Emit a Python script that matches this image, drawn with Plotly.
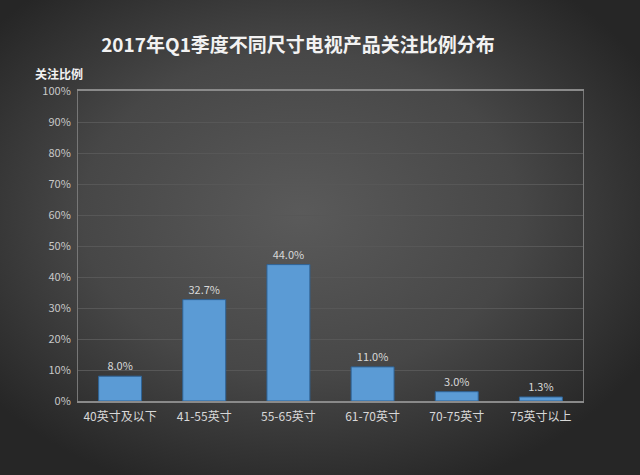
import base64
import plotly.graph_objects as go

categories = ["40英寸及以下", "41-55英寸", "55-65英寸", "61-70英寸", "70-75英寸", "75英寸以上"]
values = [8.0, 32.7, 44.0, 11.0, 3.0, 1.3]
labels = ["8.0%", "32.7%", "44.0%", "11.0%", "3.0%", "1.3%"]
y_ticks = [0, 10, 20, 30, 40, 50, 60, 70, 80, 90, 100]
y_tick_text = [f"{v}%" for v in y_ticks]

W, H = 640, 475
ML, MR, MT, MB = 78, 57, 91, 74
PW, PH = W - ML - MR, H - MT - MB

svg = f'''<svg xmlns="http://www.w3.org/2000/svg" width="{W}" height="{H}" viewBox="0 0 {W} {H}" preserveAspectRatio="none">
<defs><radialGradient id="g" cx="0.47" cy="0.45" r="0.62" gradientUnits="objectBoundingBox">
<stop offset="0" stop-color="#5a5a5a"/><stop offset="0.55" stop-color="#474747"/><stop offset="1" stop-color="#262626"/>
</radialGradient></defs><rect width="{W}" height="{H}" fill="url(#g)"/></svg>'''
src = "data:image/svg+xml;base64," + base64.b64encode(svg.encode()).decode()

font = "Noto Sans CJK SC"
fig = go.Figure(go.Bar(
    x=categories, y=values, text=labels, textposition="outside",
    textfont=dict(color="#d8d8d8", size=11, family=font),
    marker=dict(color="#5b9bd5", line=dict(color="#2f6396", width=1)),
    cliponaxis=False, width=0.51,
))
fig.update_layout(
    width=W, height=H,
    margin=dict(l=ML, r=MR, t=MT, b=MB),
    paper_bgcolor="#333333", plot_bgcolor="rgba(0,0,0,0)",
    showlegend=False,
    font=dict(family=font, color="#d8d8d8"),
    title=dict(text="<b>2017年Q1季度不同尺寸电视产品关注比例分布</b>", x=298 / W, xanchor="center",
               y=1 - 45 / H, yanchor="middle", font=dict(size=19, color="#f2f2f2", family=font)),
    images=[dict(source=src, xref="paper", yref="paper", x=-ML / PW, y=1 + MT / PH,
                 sizex=W / PW, sizey=H / PH, xanchor="left", yanchor="top",
                 sizing="stretch", layer="below")],
    annotations=[dict(text="<b>关注比例</b>", xref="paper", yref="paper", x=(59 - ML) / PW, y=1 + 17 / PH,
                      xanchor="center", yanchor="middle", showarrow=False,
                      font=dict(size=12, color="#f2f2f2", family=font))],
)
fig.update_xaxes(showgrid=False, showline=True, linecolor="#8a8a8a", linewidth=1.5, mirror=True,
                 tickfont=dict(size=12, color="#d8d8d8"), ticks="", ticklabelstandoff=4)
fig.update_yaxes(range=[0, 100], tickvals=y_ticks, ticktext=y_tick_text, showgrid=True,
                 gridcolor="#575757", gridwidth=1, showline=True, linecolor="#777777", mirror=True,
                 zeroline=False, tickfont=dict(size=11, color="#c8c8c8"), ticks="", ticklabelstandoff=4)
fig.write_html("out.html")
